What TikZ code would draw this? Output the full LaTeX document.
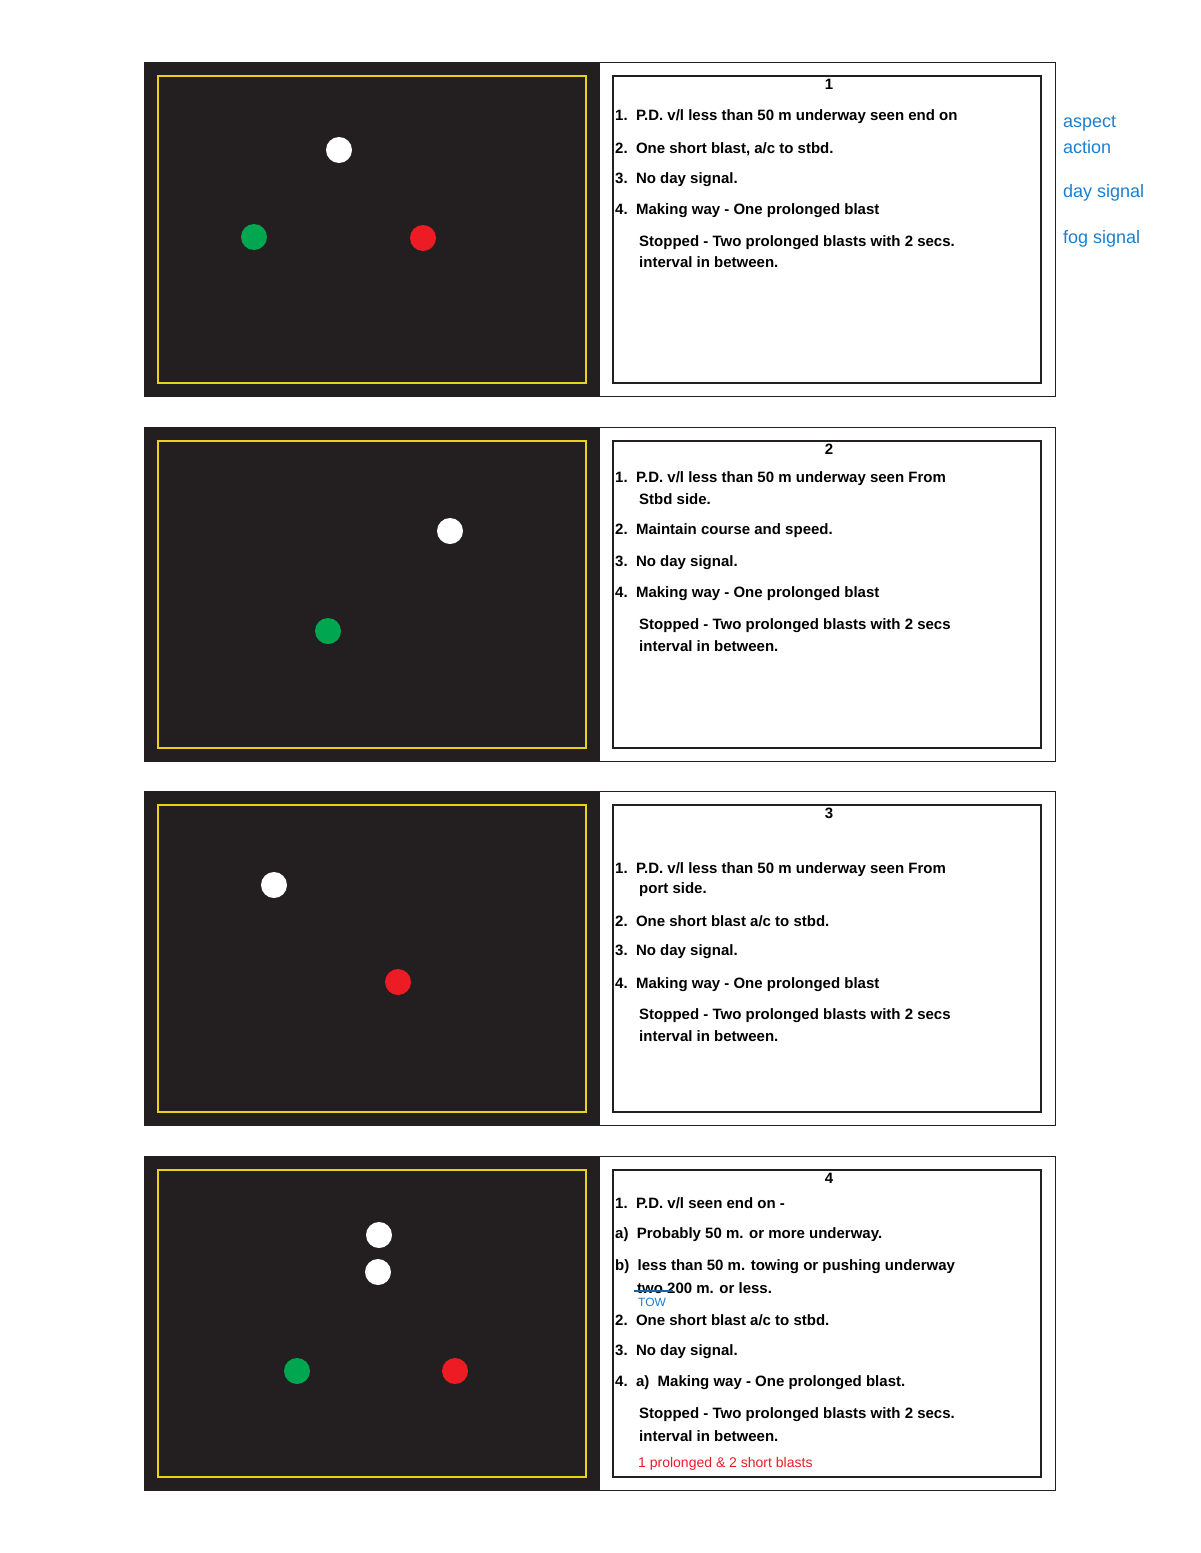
\documentclass[tikz,border=0pt]{standalone}
\usepackage{fontspec}
\setmainfont{Liberation Sans}
\definecolor{dark}{HTML}{231F20}
\definecolor{yel}{HTML}{E8D21A}
\definecolor{lgreen}{HTML}{00A650}
\definecolor{lred}{HTML}{ED1C24}
\definecolor{noteblue}{HTML}{1B7FD0}
\begin{document}
\begin{tikzpicture}[x=1pt,y=-1pt,
  txt/.style={anchor=west,inner sep=0pt,font=\fontsize{15}{17}\selectfont\bfseries},
  ttl/.style={inner sep=0pt,font=\fontsize{15}{17}\selectfont\bfseries},
  side/.style={anchor=west,inner sep=0pt,text=noteblue,font=\fontsize{18}{20}\selectfont},
  lamp/.style={circle,minimum size=26pt,inner sep=0pt},
  outer/.style={draw=dark,line width=1pt,fill=white},
  yelbox/.style={draw=yel,line width=1.2pt},
  inbox/.style={draw=dark,line width=1.2pt}]
\useasboundingbox (0,0) rectangle (1200,1553);
\foreach \oy [count=\i] in {62,427,791,1156}{
  \draw[outer] (144,\oy) rectangle (1055,\oy+334);
  \fill[dark] (144,\oy) rectangle (600,\oy+334);
  \draw[yelbox] (158,\oy+14) rectangle (586,\oy+321);
  \draw[inbox] (613,\oy+14) rectangle (1041,\oy+321);
  \node[ttl] (t\i) at (829,\oy+22) {\i};
}
% panel 1
\node[lamp,fill=white] (w1) at (339,150) {};
\node[lamp,fill=lgreen] (g1) at (254,237) {};
\node[lamp,fill=lred] (r1) at (423,238) {};
\node[txt] (a1) at (615,117) {1.\ \ P.D. v/l less than 50 m underway seen end on};
\node[txt] (a2) at (615,149) {2.\ \ One short blast, a/c to stbd.};
\node[txt] (a3) at (615,180) {3.\ \ No day signal.};
\node[txt] (a4) at (615,211) {4.\ \ Making way - One prolonged blast};
\node[txt] (a5) at (639,243) {Stopped - Two prolonged blasts with 2 secs.};
\node[txt] (a6) at (639,262) {interval in between.};
% panel 2
\node[lamp,fill=white] (w2) at (450,531) {};
\node[lamp,fill=lgreen] (g2) at (328,631) {};
\node[txt] (b1) at (615,479) {1.\ \ P.D. v/l less than 50 m underway seen From};
\node[txt] (b1b) at (639,499) {Stbd side.};
\node[txt] (b2) at (615,531) {2.\ \ Maintain course and speed.};
\node[txt] (b3) at (615,563) {3.\ \ No day signal.};
\node[txt] (b4) at (615,594) {4.\ \ Making way - One prolonged blast};
\node[txt] (b5) at (639,626) {Stopped - Two prolonged blasts with 2 secs};
\node[txt] (b6) at (639,646) {interval in between.};
% panel 3
\node[lamp,fill=white] (w3) at (274,885) {};
\node[lamp,fill=lred] (r3) at (398,982) {};
\node[txt] (c1) at (615,870) {1.\ \ P.D. v/l less than 50 m underway seen From};
\node[txt] (c1b) at (639,890) {port side.};
\node[txt] (c2) at (615,921) {2.\ \ One short blast a/c to stbd.};
\node[txt] (c3) at (615,952) {3.\ \ No day signal.};
\node[txt] (c4) at (615,985) {4.\ \ Making way - One prolonged blast};
\node[txt] (c5) at (639,1016) {Stopped - Two prolonged blasts with 2 secs};
\node[txt] (c6) at (639,1036) {interval in between.};
% panel 4
\node[lamp,fill=white] (w4a) at (379,1235) {};
\node[lamp,fill=white] (w4b) at (378,1272) {};
\node[lamp,fill=lgreen] (g4) at (297,1371) {};
\node[lamp,fill=lred] (r4) at (455,1371) {};
\node[txt] (d1) at (615,1203) {1.\ \ P.D. v/l seen end on -};
\node[txt] (d2) at (615,1235) {a)\ \ Probably 50 m. or more underway.};
\node[txt] (d3) at (615,1267) {b)\ \ less than 50 m. towing or pushing underway};
\node[txt] (d3b) at (637,1288) {two 200 m. or less.};
\coordinate (s1) at (634,1291);
\coordinate (s2) at (673,1291);
\draw[noteblue!80!black,line width=2.5pt] (s1) -- (s2);
\node[anchor=west,inner sep=0pt,text=noteblue,font=\fontsize{12}{12}\selectfont] (tow) at (638,1302) {TOW};
\node[txt] (d4) at (615,1320) {2.\ \ One short blast a/c to stbd.};
\node[txt] (d5) at (615,1352) {3.\ \ No day signal.};
\node[txt] (d6) at (615,1383) {4.\ \ a)\ \ Making way - One prolonged blast.};
\node[txt] (d7) at (639,1415) {Stopped - Two prolonged blasts with 2 secs.};
\node[txt] (d8) at (639,1436) {interval in between.};
\node[anchor=west,inner sep=0pt,text=lred,font=\fontsize{14}{14}\selectfont] (red4) at (638,1464) {1 prolonged \& 2 short blasts};
% side notes
\node[side] (n1) at (1063,124) {aspect};
\node[side] (n2) at (1063,147) {action};
\node[side] (n3) at (1063,193) {day signal};
\node[side] (n4) at (1063,239) {fog signal};
\end{tikzpicture}
\end{document}
